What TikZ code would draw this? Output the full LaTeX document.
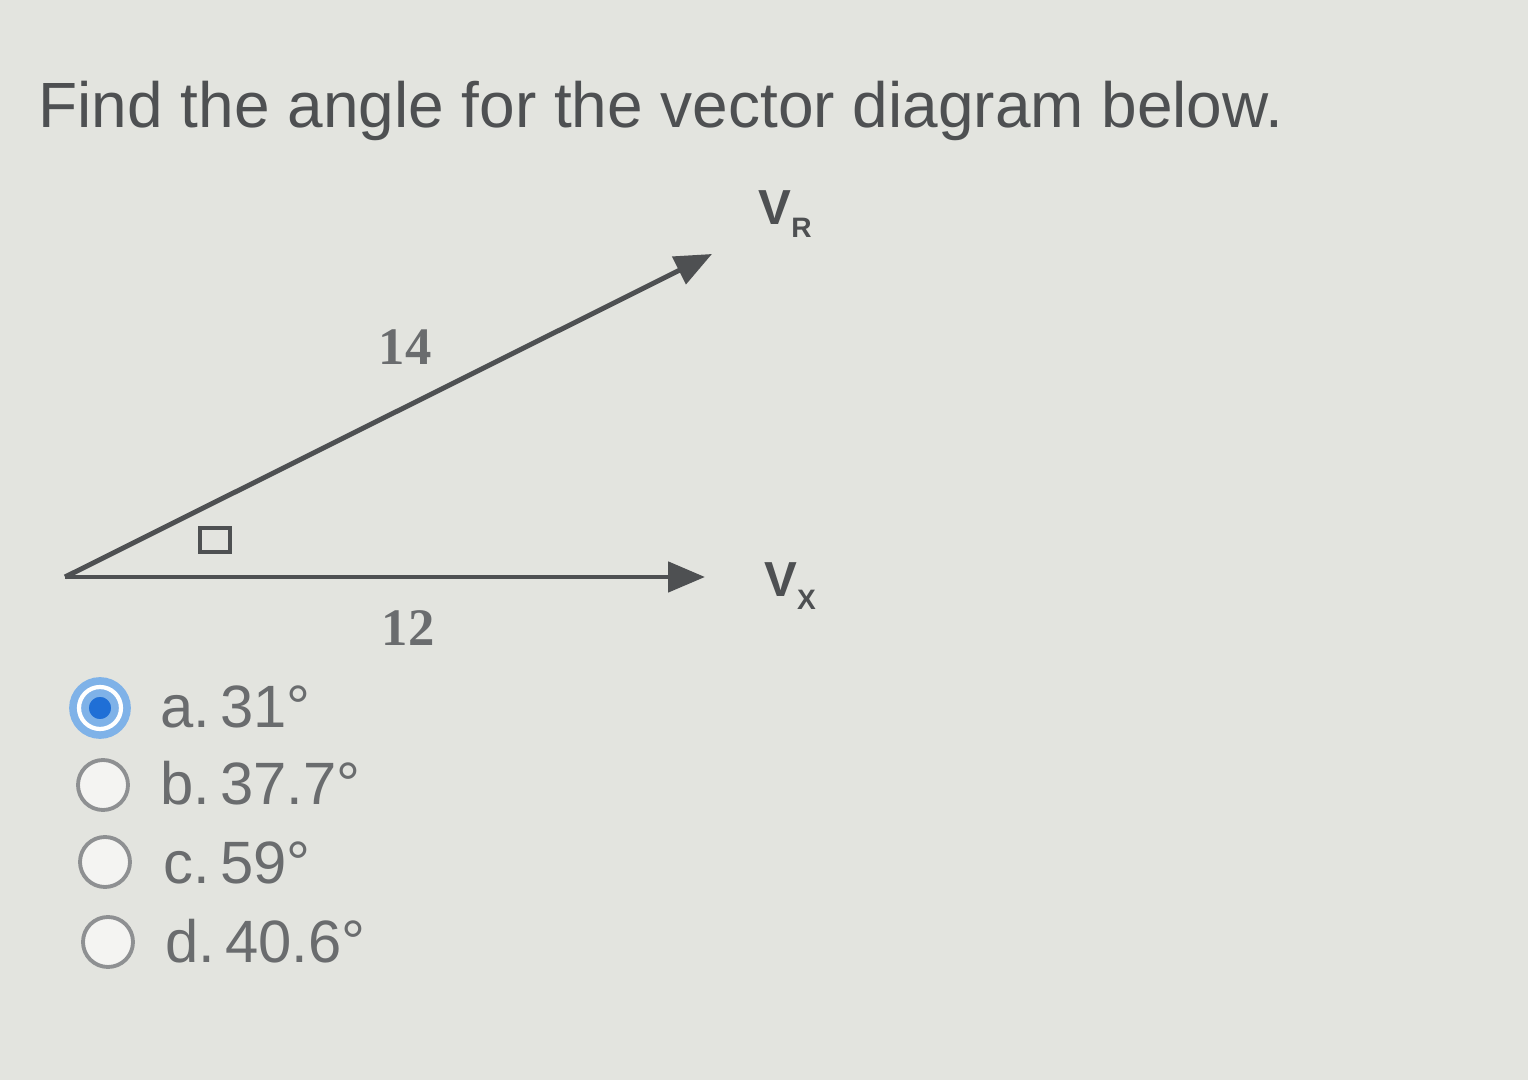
\documentclass[tikz,border=0pt]{standalone}
\usepackage{fontspec}
\setmainfont{Liberation Sans}
\newfontfamily\serifnum{Liberation Serif}
\usepackage{xcolor}
\usepackage{tikz}
\usetikzlibrary{calc,arrows.meta}
\definecolor{paper}{HTML}{E3E4DF}
\definecolor{ink}{HTML}{4E5052}
\definecolor{soft}{HTML}{6A6C6E}
\definecolor{ring}{HTML}{8E9092}
\definecolor{pick}{HTML}{1F6FD6}
\definecolor{halo}{HTML}{7FB2E8}
\tikzset{
  vec/.style={draw=ink, line width=1.4pt, -{Triangle[length=0.37cm,width=0.3cm]}},
  lab/.style={text=ink, font=\fontsize{14}{16}\selectfont},
  num/.style={text=soft, font=\serifnum\bfseries\fontsize{15}{17}\selectfont},
  note/.style={text=soft, font=\fontsize{17}{20}\selectfont, anchor=base west, inner sep=0pt},
  radio/.style={circle, draw=ring, line width=1.1pt, fill=white!60!paper, minimum size=0.5cm, inner sep=0pt},
  picked/.style={circle, draw=halo, line width=2.2pt, fill=pick, double=white, double distance=1.2pt, minimum size=0.42cm, inner sep=0pt},
}

\begin{document}
\begin{tikzpicture}
\useasboundingbox[fill=paper] (0,0) rectangle (15.28,10.80);
\node[note, text=ink, font=\fontsize{18.2}{21}\selectfont] (title) at (0.38,9.52) {Find the angle for the vector diagram below.};
\coordinate (O) at (0.65,5.03);
\coordinate (X) at (7.05,5.03);
\coordinate (R) at (7.12,8.26);
\draw[vec] (O) -- (X);
\draw[vec] (O) -- (R);
\node[draw=ink, line width=1.4pt, minimum width=0.3cm, minimum height=0.24cm, inner sep=0pt] (theta) at (2.15,5.40) {};
\node[num] (len14) at (4.05,7.33) {14};
\node[num] (len12) at (4.08,4.52) {12};
\node[lab] (VR) at (7.85,8.66) {\bfseries V\raisebox{-0.5ex}{\fontsize{8}{9}\selectfont R}};
\node[lab] (VX) at (7.90,4.94) {\bfseries V\raisebox{-0.5ex}{\fontsize{8}{9}\selectfont X}};
\node[picked] (ra) at (1.00,3.72) {};
\node[radio] (rb) at (1.03,2.95) {};
\node[radio] (rc) at (1.05,2.18) {};
\node[radio] (rd) at (1.08,1.38) {};
\node[note] (oa) at (1.60,3.52) {a.\,31°};
\node[note] (ob) at (1.60,2.75) {b.\,37.7°};
\node[note] (oc) at (1.63,1.96) {c.\,59°};
\node[note] (od) at (1.65,1.18) {d.\,40.6°};
\end{tikzpicture}
\end{document}
